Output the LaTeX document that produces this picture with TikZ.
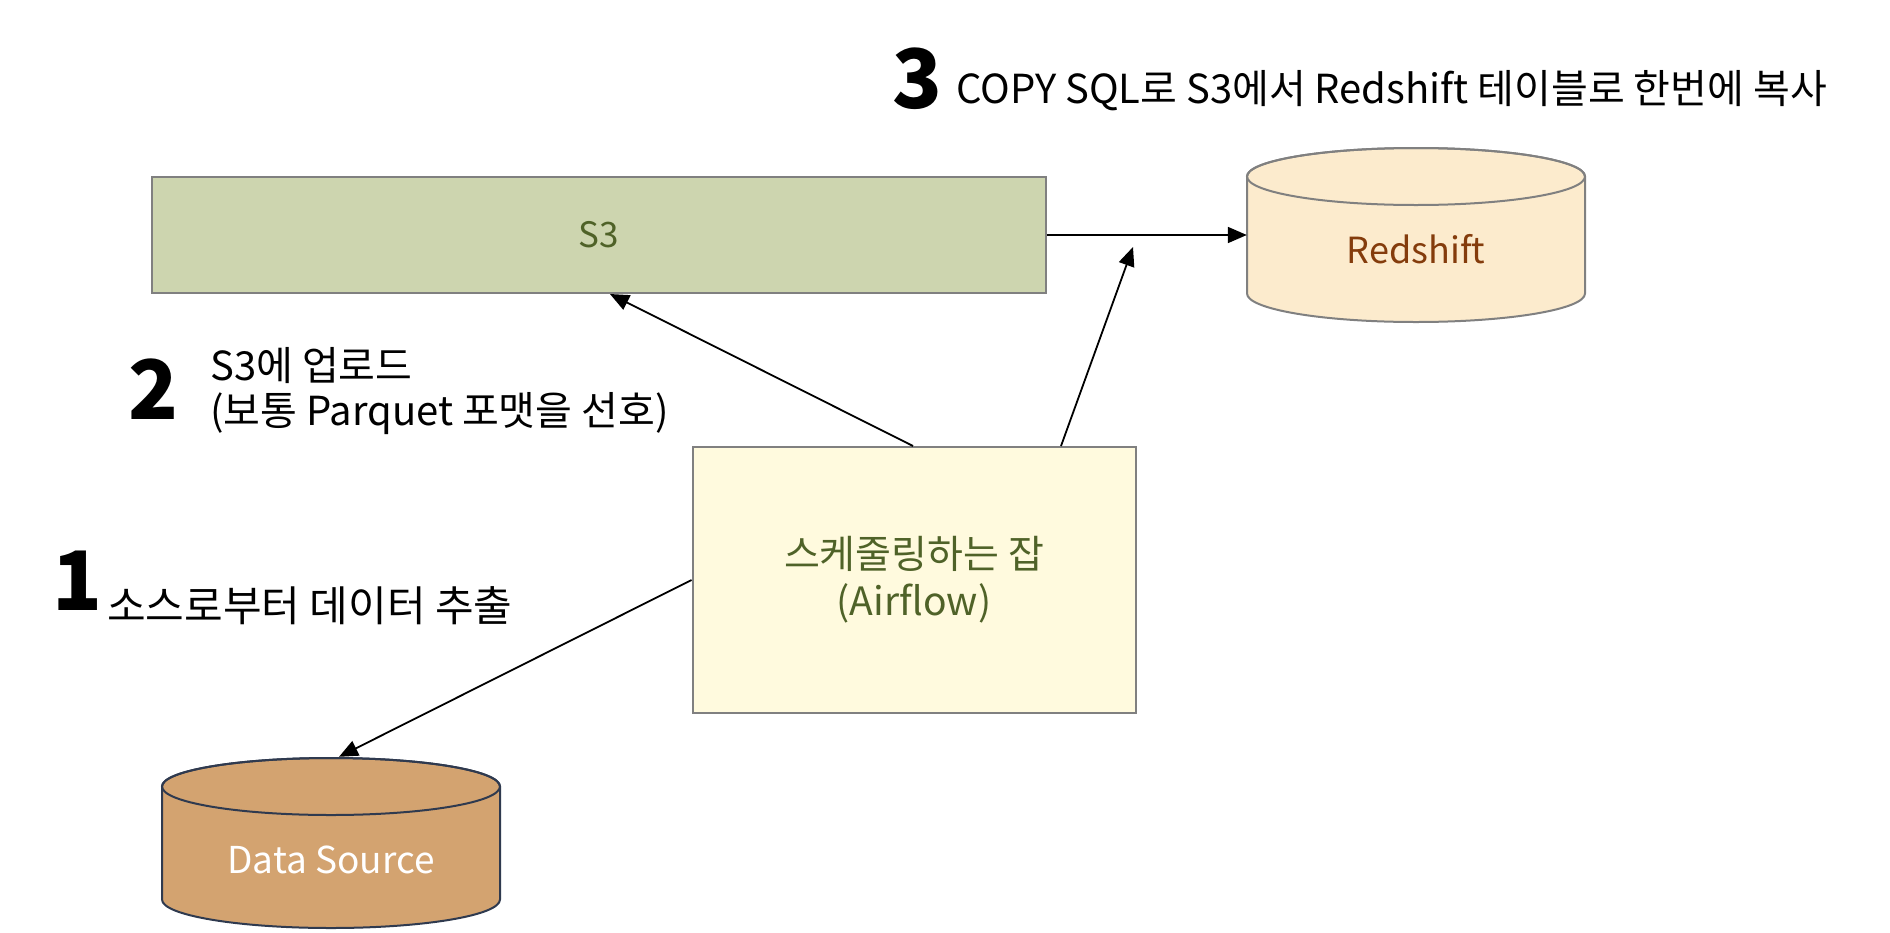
\documentclass[tikz,border=0pt]{standalone}
\usepackage{fontspec}
\setmainfont{Noto Sans CJK KR}
\usetikzlibrary{arrows.meta}
\definecolor{sthreefill}{RGB}{205,213,175}
\definecolor{darkgreen}{RGB}{79,98,40}
\definecolor{rsfill}{RGB}{252,235,205}
\definecolor{rstext}{RGB}{132,60,12}
\definecolor{affill}{RGB}{255,250,222}
\definecolor{dsfill}{RGB}{211,163,112}
\definecolor{dsline}{RGB}{47,58,79}
\definecolor{boxline}{RGB}{128,128,128}
\begin{document}
\begin{tikzpicture}[x=1pt,y=-1pt,
  conn/.style={draw=black, line width=1.8pt, -{Triangle[length=19pt,width=16pt]}},
  box/.style={draw=boxline, line width=2pt, inner sep=0pt},
  ghost/.style={inner sep=0pt, minimum width=338pt, minimum height=172pt},
  num/.style={inner sep=0pt, anchor=base west, font=\fontsize{82}{90}\selectfont\bfseries},
  anno/.style={inner sep=0pt, anchor=base west, font=\fontsize{40}{46}\selectfont},
  label/.style={inner sep=0pt, anchor=base, font=\fontsize{36}{42}\selectfont}]
\useasboundingbox (0,0) rectangle (1890,932);
\fill[white] (0,0) rectangle (1890,932);

% S3
\node[box, fill=sthreefill, minimum width=894pt, minimum height=116pt,
      text=darkgreen, font=\fontsize{35}{40}\selectfont] (s3) at (599,235) {S3};

% Redshift cylinder
\filldraw[fill=rsfill, draw=boxline, line width=2pt]
  (1247,176.5) -- (1247,293.5)
  arc[start angle=180, end angle=360, x radius=169pt, y radius=28.5pt]
  -- (1585,176.5)
  arc[start angle=0, end angle=180, x radius=169pt, y radius=28.5pt] -- cycle;
\draw[boxline, line width=2pt] (1416,176.5) ellipse[x radius=169pt, y radius=28.5pt];
\node[ghost] (rs) at (1416,235) {};
\node[label, text=rstext] (rslabel) at (1416,263) {Redshift};

% Airflow
\node[box, fill=affill, minimum width=443pt, minimum height=266pt, align=center,
      text=darkgreen, font=\fontsize{39}{47}\selectfont] (af) at (914,580)
      {스케줄링하는 잡\\(Airflow)};

% Data Source cylinder
\filldraw[fill=dsfill, draw=dsline, line width=2pt]
  (162,786.5) -- (162,899.5)
  arc[start angle=180, end angle=360, x radius=169pt, y radius=28.5pt]
  -- (500,786.5)
  arc[start angle=0, end angle=180, x radius=169pt, y radius=28.5pt] -- cycle;
\draw[dsline, line width=2pt] (331,786.5) ellipse[x radius=169pt, y radius=28.5pt];
\node[ghost] (ds) at (331,843) {};
\node[label, text=white, font=\fontsize{37}{42}\selectfont] (dslabel) at (331,873) {Data Source};

% connectors
\coordinate (tipthree) at (1133,247);
\draw[conn] (s3.east) -- (rs.west);
\draw[conn] ([xshift=-1pt]af.north) -- ([xshift=11pt]s3.south);
\draw[conn] ([xshift=147pt]af.north) -- (tipthree);
\draw[conn] (af.west) -- ([xshift=8pt]ds.north);

% annotations
\node[num] (n3) at (892,108) {3};
\node[anno] (t3) at (956,103) {COPY SQL로 S3에서 Redshift 테이블로 한번에 복사};
\node[num] (n2) at (128,419) {2};
\node[anno, align=left, font=\fontsize{40}{45}\selectfont] (t2) at (210,425)
  {S3에 업로드\\(보통 Parquet 포맷을 선호)};
\node[num] (n1) at (52,610) {1};
\node[anno, font=\fontsize{42}{46}\selectfont] (t1) at (107,621) {소스로부터 데이터 추출};
\end{tikzpicture}
\end{document}
